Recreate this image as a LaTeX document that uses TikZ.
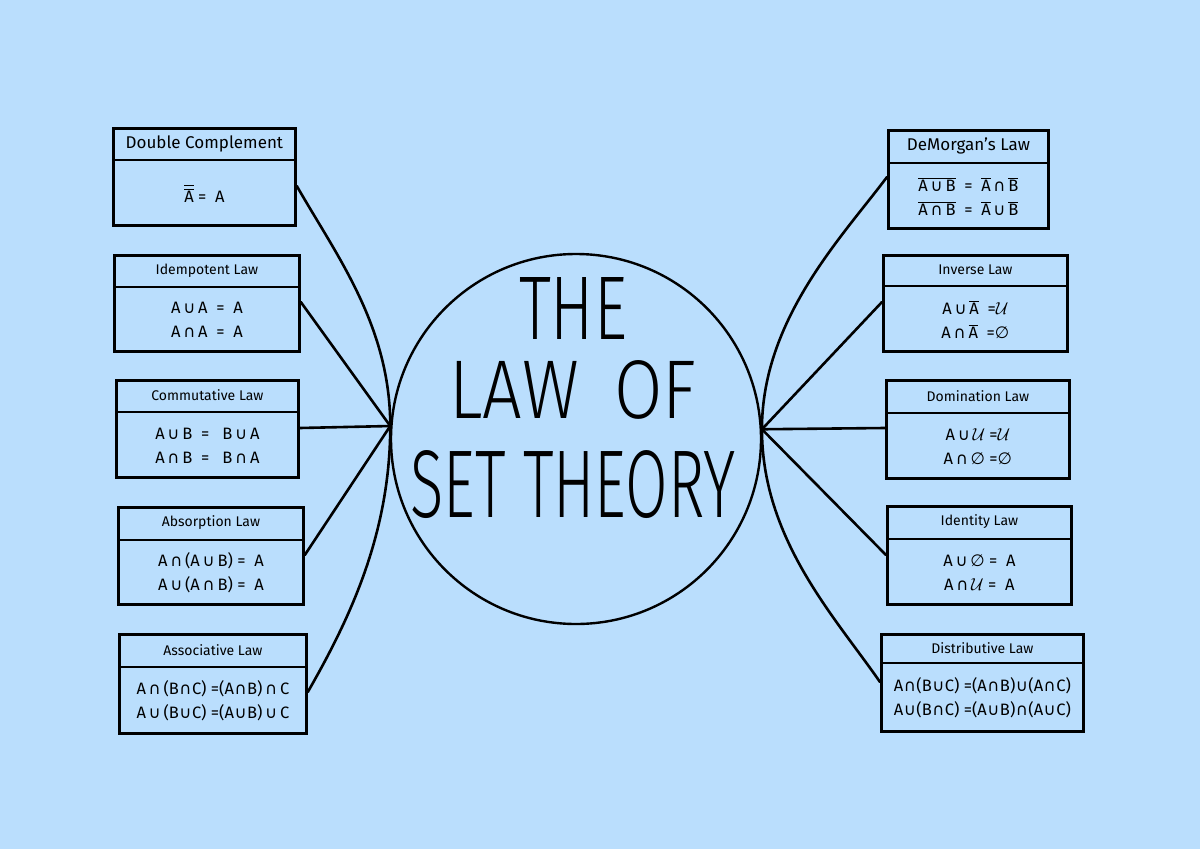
\documentclass[tikz,border=0pt]{standalone}
\usepackage{fontspec}
\setmainfont{Fira Sans}
\newfontfamily\titlef{Fira Sans Light}
\newfontfamily\symf{DejaVu Sans}
\usepackage{graphicx}
\usetikzlibrary{calc}
\definecolor{bgblue}{RGB}{186,222,253}
\newcommand\Un{\,{\symf ∪}\,}
\newcommand\In{\,{\symf ∩}\,}
\newcommand\Unt{\kern0.5pt{\symf ∪}\kern0.5pt}
\newcommand\Int{\kern0.5pt{\symf ∩}\kern0.5pt}
\newcommand\Es{{\symf ∅}}
\newcommand\Uv{$\mathcal{U}$}
\newcommand\ovl[1]{$\overline{\hbox{#1}}$}
\newcommand\bigt{\fontsize{17}{20}\selectfont}
\tikzset{
  lawframe/.style={draw, line width=2.8pt, inner sep=0pt, rectangle},
  lawline/.style={line width=2.8pt},
  lawtitle/.style={inner sep=0pt, font=\fontsize{14}{16}\selectfont},
  lawbody/.style={inner sep=0pt, align=center, font=\fontsize{16.5}{24}\selectfont},
  conn/.style={line width=2.6pt, line cap=round},
  titletext/.style={inner sep=0pt, align=center, font=\titlef\fontsize{90}{73}\selectfont}
}
% name, x1, y1, x2, y2, ydiv, title, body
\newcommand\lawbox[8]{%
  \node[lawframe, minimum width={#4-#2}, minimum height={#5-#3}, anchor=north west] (#1) at (#2,#3) {};
  \draw[lawline] (#1.west |- 0,#6) -- (#1.east |- 0,#6);
  \node[lawtitle] (#1t) at ($(#1.north)!0.5!(#1.north |- 0,#6)$) {#7};
  \node[lawbody] (#1b) at ($(#1.south)!0.5!(#1.south |- 0,#6)$) {#8};
}
\begin{document}
\begin{tikzpicture}[x=1pt, y=-1pt]
\useasboundingbox (0,0) rectangle (1200,849);
\fill[bgblue] (0,0) rectangle (1200,849);

% centre circle
\node[circle, draw, line width=2.4pt, minimum size=370pt, inner sep=0pt] (circ) at (576,439) {};
\node[titletext, anchor=north] (title) at (573,277)
  {\resizebox{108pt}{62pt}{THE}\\[6pt] \resizebox{247pt}{58pt}{LAW\hspace{0.5em}OF}\\[26pt] \resizebox{325pt}{67pt}{SET THEORY}};
\coordinate (hubL) at (circ.176.6);
\coordinate (hubR) at (circ.3.4);

% left boxes
\lawbox{dc}{112}{127}{294}{224}{160}{\bigt Double Complement}{\raisebox{-6pt}{$\overline{\rule{0pt}{15.5pt}\smash{\overline{\hbox{A}}}}$\ = \ A}}
\lawbox{id}{113}{254}{298}{350}{287}{Idempotent Law}{A\Un A\ \ = \ A\\ A\In A\ \ = \ A}
\lawbox{co}{115}{379}{297}{476}{412}{Commutative Law}{A\Un B\ \ = \ \ B\Un A\\ A\In B\ \ = \ \ B\In A}
\lawbox{ab}{117}{506}{302}{603}{540}{Absorption Law}{A\In(A\Un B) = \ A\\ A\Un(A\In B) = \ A}
\lawbox{as}{118}{633}{305}{732}{667}{Associative Law}{A\In(B\Int C) =(A\Int B)\In C\\ A\Un(B\Unt C) =(A\Unt B)\Un C}

% right boxes
\lawbox{dm}{887}{129}{1047}{227}{163}{\bigt DeMorgan's Law}{\ovl{A\Un B} \ = \ \ovl{A}\In\ovl{B}\\ \ovl{A\In B} \ = \ \ovl{A}\Un\ovl{B}}
\lawbox{iv}{882}{254}{1066}{350}{286}{Inverse Law}{A\Un\ovl{A}\ \ =\Uv\\ A\In\ovl{A}\ \ =\Es}
\lawbox{dn}{885}{379}{1068}{477}{413}{Domination Law}{A\Un\Uv\ =\Uv\\ A\In\Es\ =\Es}
\lawbox{it}{886}{505}{1070}{603}{539}{Identity Law}{A\Un\Es\ = \ A\\ A\In\Uv\ = \ A}
\lawbox{di}{880}{633}{1082}{730}{663}{Distributive Law}{A\Int(B\Unt C) =(A\Int B)\Unt(A\Int C)\\ A\Unt(B\Int C) =(A\Unt B)\Int(A\Unt C)}

% connector end points on boxes
\coordinate (dcC) at (dc.east |- 0,186);
\coordinate (idC) at (id.east |- 0,302);
\coordinate (coC) at (co.east |- 0,428);
\coordinate (abC) at (ab.east |- 0,555);
\coordinate (asC) at (as.east |- 0,692);
\coordinate (dmC) at (dm.west |- 0,177);
\coordinate (ivC) at (iv.west |- 0,302);
\coordinate (dnC) at (dn.west |- 0,428);
\coordinate (itC) at (it.west |- 0,555);
\coordinate (diC) at (di.west |- 0,682);

% connectors left
\draw[conn] (dcC) .. controls +(40,70) and +(0,-100) .. (hubL);
\draw[conn] (hubL) .. controls +(0,110) and +(40,-70) .. (asC);
\draw[conn] (idC) -- (hubL);
\draw[conn] (coC) -- (hubL);
\draw[conn] (abC) -- (hubL);
% connectors right
\draw[conn] (dmC) .. controls +(-45,60) and +(0,-110) .. (hubR);
\draw[conn] (hubR) .. controls +(0,110) and +(-45,-65) .. (diC);
\draw[conn] (ivC) -- (hubR);
\draw[conn] (dnC) -- (hubR);
\draw[conn] (itC) -- (hubR);
\end{tikzpicture}
\end{document}
